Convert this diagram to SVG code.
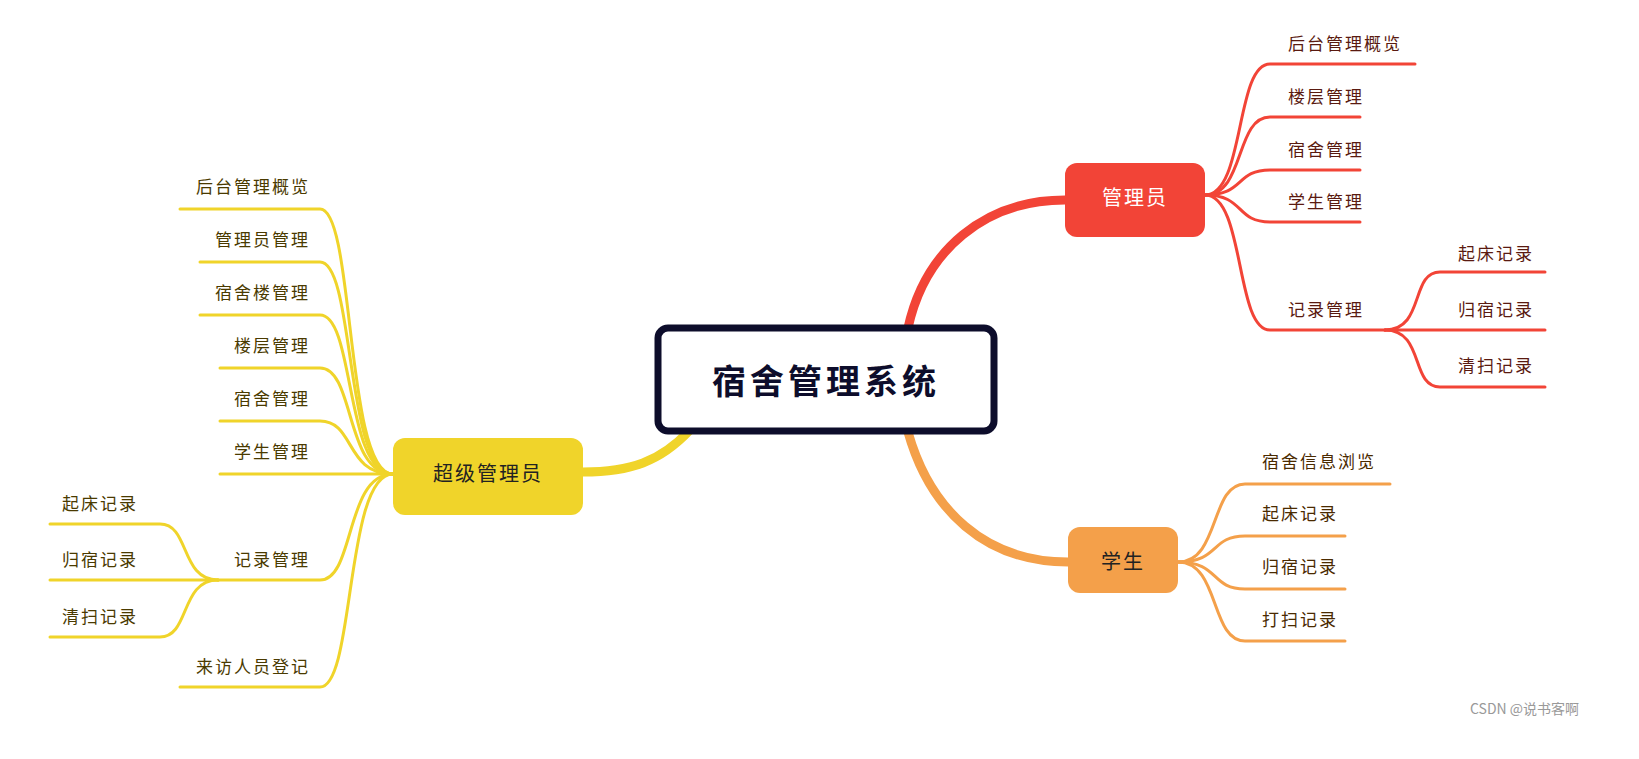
<svg xmlns="http://www.w3.org/2000/svg" width="1639" height="759" viewBox="0 0 1639 759">
<style>
.t{font-family:"Noto Sans CJK SC","Noto Sans",sans-serif;font-size:17px;letter-spacing:2px}
.r{stroke:#f24437;fill:none;stroke-width:3;stroke-linecap:round}
.o{stroke:#f4a04a;fill:none;stroke-width:3;stroke-linecap:round}
.y{stroke:#f0d42a;fill:none;stroke-width:3;stroke-linecap:round}
.tr{fill:#5a1a10}.to{fill:#4a2a00}.ty{fill:#4a3a00}
</style>
<rect width="1639" height="759" fill="#fff"/>
<g id="connectors">
<path class="r" style="stroke-width:9" d="M908,328 C925,250 985,200 1065,200"/>
<path class="o" style="stroke-width:9" d="M908,432 C930,510 985,562 1068,562"/>
<path class="y" style="stroke-width:9" d="M690,430 C660,462 630,472 583,472"/>
<path class="r" d="M1205,195 C1245,195 1235,64 1270,64 H1415"/>
<path class="r" d="M1205,195 C1245,195 1235,117 1270,117 H1360"/>
<path class="r" d="M1205,195 C1245,195 1235,170 1270,170 H1360"/>
<path class="r" d="M1205,195 C1245,195 1235,222 1270,222 H1360"/>
<path class="r" d="M1205,195 C1245,195 1235,330 1270,330 H1385"/>
<path class="r" d="M1385,330 C1425,330 1410,272 1440,272 H1545"/>
<path class="r" d="M1385,330 H1545"/>
<path class="r" d="M1385,330 C1425,330 1410,387 1440,387 H1545"/>
<path class="o" d="M1178,562 C1220,562 1210,484 1245,484 H1390"/>
<path class="o" d="M1178,562 C1220,562 1210,536 1245,536 H1345"/>
<path class="o" d="M1178,562 C1220,562 1210,589 1245,589 H1345"/>
<path class="o" d="M1178,562 C1220,562 1210,641 1245,641 H1345"/>
<path class="y" d="M393,474 C345,474 355,209 320,209 H180"/>
<path class="y" d="M393,474 C345,474 355,262 320,262 H200"/>
<path class="y" d="M393,474 C345,474 355,315 320,315 H200"/>
<path class="y" d="M393,474 C345,474 355,368 320,368 H220"/>
<path class="y" d="M393,474 C345,474 355,421 320,421 H220"/>
<path class="y" d="M393,474 C345,474 355,474 320,474 H220"/>
<path class="y" d="M393,474 C345,474 355,580 320,580 H218"/>
<path class="y" d="M393,474 C345,474 355,687 320,687 H180"/>
<path class="y" d="M218,580 C180,580 190,524 160,524 H50"/>
<path class="y" d="M218,580 H50"/>
<path class="y" d="M218,580 C180,580 190,637 160,637 H50"/>
</g>
<g id="root">
<rect x="658" y="328" width="336" height="103" rx="10" fill="#fff" stroke="#0d0d2b" stroke-width="7"/>
<text x="826" y="394" text-anchor="middle" font-family="Noto Sans CJK SC,sans-serif" font-weight="bold" font-size="34" letter-spacing="4" fill="#0d0d2b">宿舍管理系统</text>
</g>
<g id="admin">
<rect x="1065" y="163" width="140" height="74" rx="12" fill="#f24437"/>
<text x="1135" y="205" text-anchor="middle" class="t" style="font-size:20px" fill="#fff">管理员</text>
</g>
<g id="student">
<rect x="1068" y="527" width="110" height="66" rx="12" fill="#f4a04a"/>
<text x="1123" y="569" text-anchor="middle" class="t" style="font-size:20px" fill="#222">学生</text>
</g>
<g id="super">
<rect x="393" y="438" width="190" height="77" rx="12" fill="#f0d42a"/>
<text x="488" y="481" text-anchor="middle" class="t" style="font-size:20px" fill="#222">超级管理员</text>
</g>
<g id="admin-leaves" class="t tr">
<text x="1288" y="50">后台管理概览</text>
<text x="1288" y="103">楼层管理</text>
<text x="1288" y="156">宿舍管理</text>
<text x="1288" y="208">学生管理</text>
<text x="1288" y="316">记录管理</text>
<text x="1458" y="260">起床记录</text>
<text x="1458" y="316">归宿记录</text>
<text x="1458" y="372">清扫记录</text>
</g>
<g id="student-leaves" class="t to">
<text x="1262" y="468">宿舍信息浏览</text>
<text x="1262" y="520">起床记录</text>
<text x="1262" y="573">归宿记录</text>
<text x="1262" y="626">打扫记录</text>
</g>
<g id="super-leaves" class="t ty" text-anchor="end">
<text x="310" y="193">后台管理概览</text>
<text x="310" y="246">管理员管理</text>
<text x="310" y="299">宿舍楼管理</text>
<text x="310" y="352">楼层管理</text>
<text x="310" y="405">宿舍管理</text>
<text x="310" y="458">学生管理</text>
<text x="310" y="566">记录管理</text>
<text x="310" y="673">来访人员登记</text>
<text x="138" y="510">起床记录</text>
<text x="138" y="566">归宿记录</text>
<text x="138" y="623">清扫记录</text>
</g>
<text x="1470" y="714" font-family="Noto Sans CJK SC,sans-serif" font-size="14" fill="#999">CSDN @说书客啊</text>
</svg>
